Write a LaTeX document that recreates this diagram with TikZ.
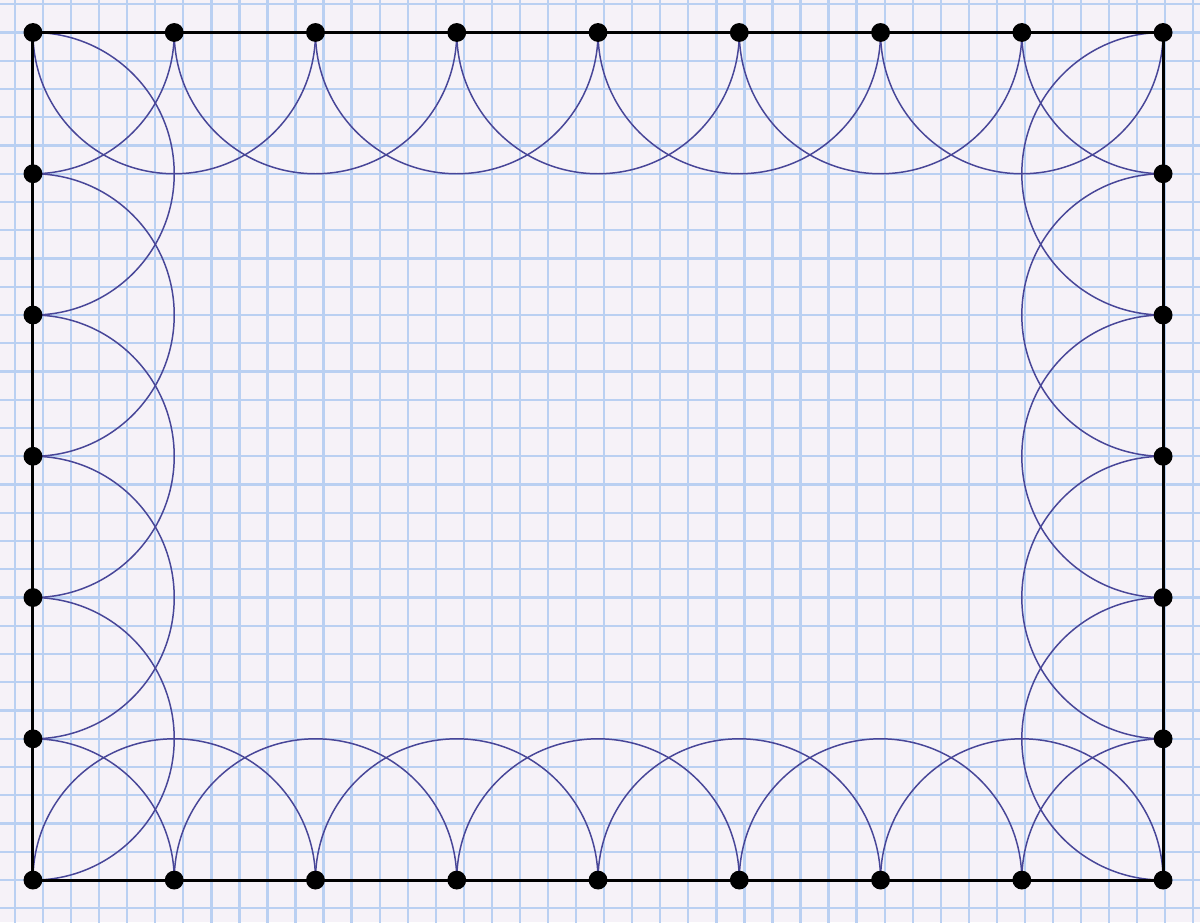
\documentclass[tikz,border=0pt]{standalone}
\usepackage{tikz}
\usetikzlibrary{calc}
\definecolor{paperwhite}{RGB}{246,242,248}
\definecolor{gridblue}{RGB}{186,208,242}
\definecolor{arcblue}{RGB}{72,70,152}
\def\edgearc(#1)(#2:#3){\draw[arcline] ($(#1)+(#2:1.5)$) arc (#2:#3:1.5);}

\begin{document}
\begin{tikzpicture}[
	arcline/.style={line width=0.45pt, color=arcblue},
	frameline/.style={line width=0.9pt, color=black},
	gridline/.style={line width=0.7pt, color=gridblue},
	perimdot/.style={fill=black}]
			%%%%% PAPER %%%%%
			\useasboundingbox (-0.350, -0.446) rectangle (12.392, 9.345);
			\clip (-0.350, -0.446) rectangle (12.392, 9.345);
			\fill[paperwhite] (-0.350, -0.446) rectangle (12.392, 9.345);
			\begin{scope}[xshift=-0.191cm]
				\draw[gridline, xstep=0.2979, ystep=0.3] (-0.3, -0.6) grid (12.9, 9.6);
			\end{scope}
			
			%%%%% TOP %%%%%
			\edgearc(1.5, 9)(180:360)
			\edgearc(3, 9)(180:360)
			\edgearc(4.5, 9)(180:360)
			\edgearc(6, 9)(180:360)
			\edgearc(7.5, 9)(180:360)
			\edgearc(9, 9)(180:360)
			\edgearc(10.5, 9)(180:360)
			
			%%%%% BOTTOM %%%%%
			\edgearc(1.5, 0)(0:180)
			\edgearc(3, 0)(0:180)
			\edgearc(4.5, 0)(0:180)
			\edgearc(6, 0)(0:180)
			\edgearc(7.5, 0)(0:180)
			\edgearc(9, 0)(0:180)
			\edgearc(10.5, 0)(0:180)
			
			%%%%% LEFT %%%%%
			\edgearc(0, 1.5)(-90:90)
			\edgearc(0, 3)(-90:90)
			\edgearc(0, 4.5)(-90:90)
			\edgearc(0, 6)(-90:90)
			\edgearc(0, 7.5)(-90:90)
			
			%%%%% RIGHT %%%%%
			\edgearc(12, 1.5)(90:270)
			\edgearc(12, 3)(90:270)
			\edgearc(12, 4.5)(90:270)
			\edgearc(12, 6)(90:270)
			\edgearc(12, 7.5)(90:270)
			
			%%%%% CORNERS %%%%%
			\edgearc(0, 0)(0:90)
			\edgearc(12, 0)(90:180)
			\edgearc(12, 9)(180:270)
			\edgearc(0, 9)(270:360)
			
			\draw[frameline] (0, 0) rectangle (12, 9);
			
			%%%%% DOTS %%%%%
			\fill[perimdot] (0, 9) circle (0.1);
			\fill[perimdot] (1.5, 9) circle (0.1);
			\fill[perimdot] (3, 9) circle (0.1);
			\fill[perimdot] (4.5, 9) circle (0.1);
			\fill[perimdot] (6, 9) circle (0.1);
			\fill[perimdot] (7.5, 9) circle (0.1);
			\fill[perimdot] (9, 9) circle (0.1);
			\fill[perimdot] (10.5, 9) circle (0.1);
			\fill[perimdot] (12, 9) circle (0.1);
			
			\fill[perimdot] (0, 0) circle (0.1);
			\fill[perimdot] (1.5, 0) circle (0.1);
			\fill[perimdot] (3, 0) circle (0.1);
			\fill[perimdot] (4.5, 0) circle (0.1);
			\fill[perimdot] (6, 0) circle (0.1);
			\fill[perimdot] (7.5, 0) circle (0.1);
			\fill[perimdot] (9, 0) circle (0.1);
			\fill[perimdot] (10.5, 0) circle (0.1);
			\fill[perimdot] (12, 0) circle (0.1);
			
			\fill[perimdot] (0, 1.5) circle (0.1);
			\fill[perimdot] (0, 3) circle (0.1);
			\fill[perimdot] (0, 4.5) circle (0.1);
			\fill[perimdot] (0, 6) circle (0.1);
			\fill[perimdot] (0, 7.5) circle (0.1);
			
			\fill[perimdot] (12, 1.5) circle (0.1);
			\fill[perimdot] (12, 3) circle (0.1);
			\fill[perimdot] (12, 4.5) circle (0.1);
			\fill[perimdot] (12, 6) circle (0.1);
			\fill[perimdot] (12, 7.5) circle (0.1);
\end{tikzpicture}
\end{document}
